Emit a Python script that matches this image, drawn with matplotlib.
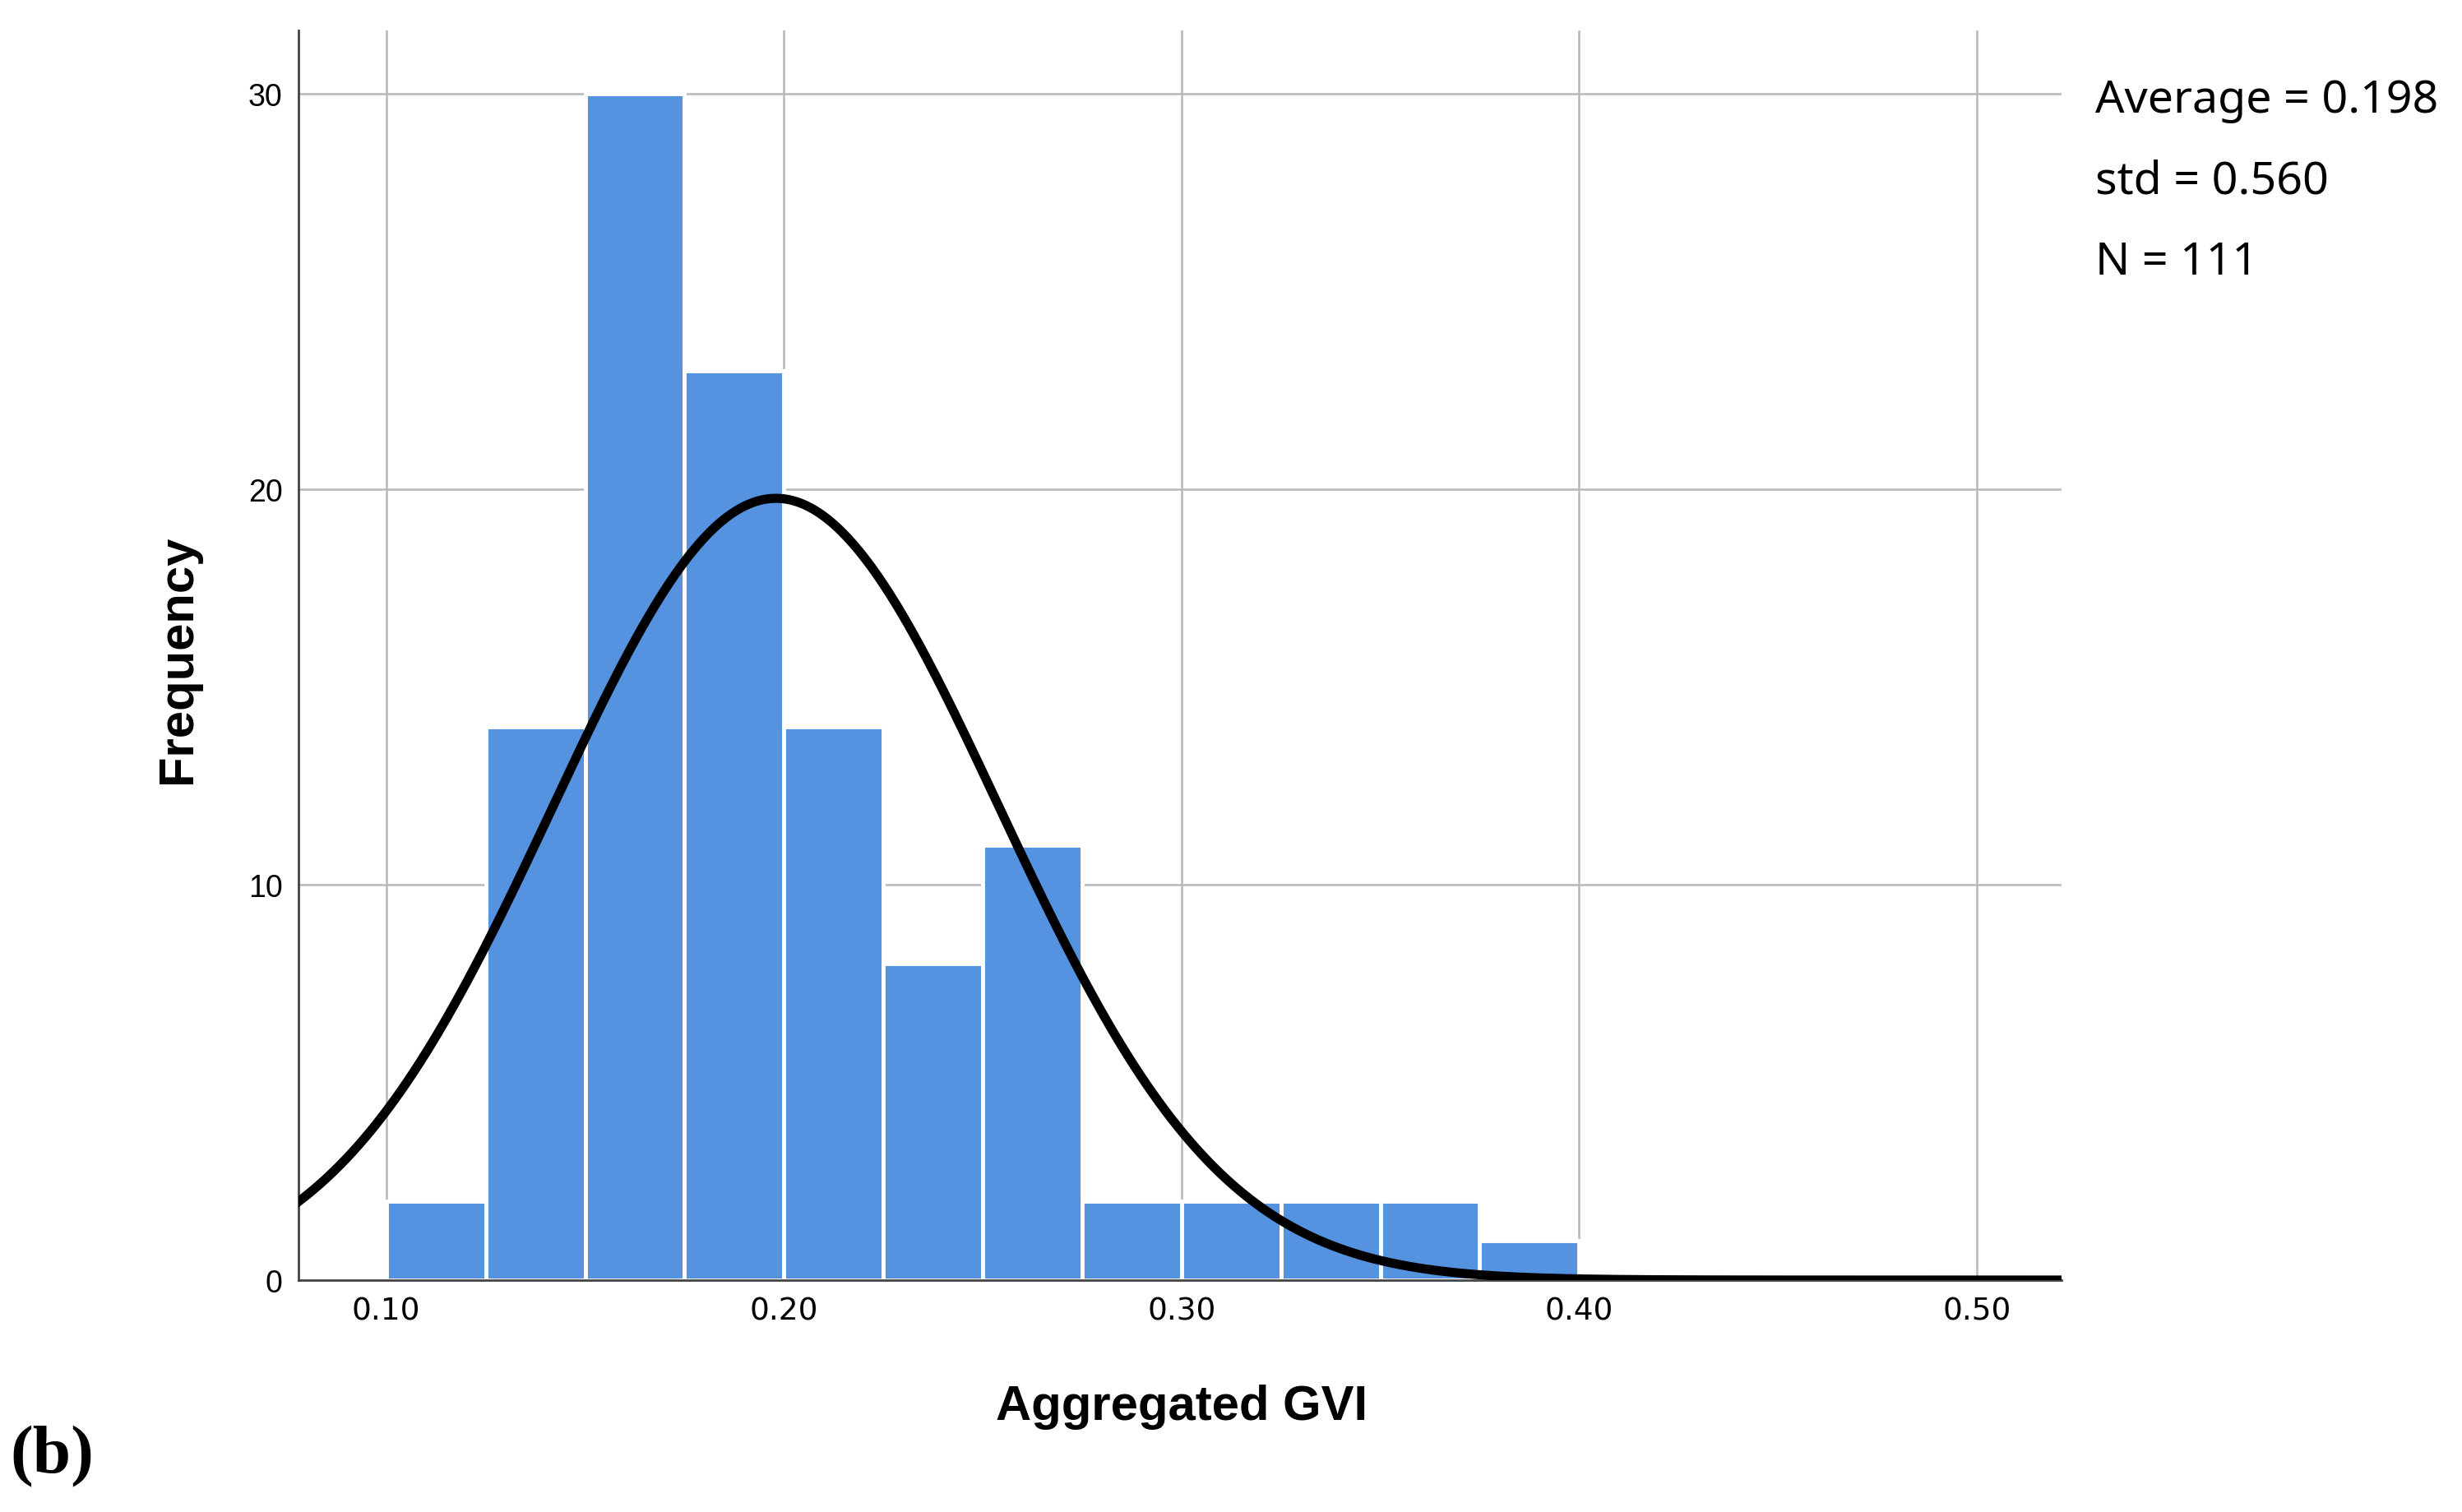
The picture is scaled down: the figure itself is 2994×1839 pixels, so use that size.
import numpy as np
import matplotlib.pyplot as plt

# histogram of aggregated GVI (bin edges + counts)
bin_edges = [0.100, 0.125, 0.150, 0.175, 0.200, 0.225, 0.250,
             0.275, 0.300, 0.325, 0.350, 0.375, 0.400]
counts = [2, 14, 30, 23, 14, 8, 11, 2, 2, 2, 2, 1]

avg = 0.198
std_fit = 0.056   # width of the drawn normal curve
n_obs = 111
stat_lines = ["Average = 0.198", "std = 0.560", "N = 111"]

x_ticks = [0.10, 0.20, 0.30, 0.40, 0.50]
x_ticklabels = ["0.10", "0.20", "0.30", "0.40", "0.50"]
y_ticks = [0, 10, 20, 30]

bar_color = "#5593E0"

fig = plt.figure(figsize=(29.94, 18.40), dpi=100)
ax = fig.add_axes([0.1212, 0.1533, 0.8373 - 0.1212, 0.9793 - 0.1533])

widths = np.diff(bin_edges)
ax.bar(bin_edges[:-1], counts, width=widths, align="edge", color=bar_color,
       edgecolor="white", linewidth=3.5, zorder=2)

# fitted normal curve
xs = np.linspace(0.07, 0.53, 600)
ys = n_obs * widths[0] / (std_fit * np.sqrt(2 * np.pi)) * np.exp(-0.5 * ((xs - avg) / std_fit) ** 2)
ax.plot(xs, ys, color="black", lw=8, zorder=3, solid_capstyle="butt")

ax.set_xlim(0.0779, 0.5213)
ax.set_ylim(0, 31.6)
ax.set_xticks(x_ticks)
ax.set_xticklabels(x_ticklabels, family=["Liberation Sans Narrow", "DejaVu Sans"], fontsize=27)
ax.set_yticks(y_ticks)
ax.set_yticklabels([str(v) for v in y_ticks], family="Liberation Sans", fontsize=27)
ax.tick_params(length=0, pad=14)

ax.grid(True, color="#b8b8b8", lw=1.8, zorder=0)
ax.set_axisbelow(True)
for s in ["top", "right"]:
    ax.spines[s].set_visible(False)
for s in ["left", "bottom"]:
    ax.spines[s].set_color("#444444")
    ax.spines[s].set_linewidth(2)

fig.text(216 / 2994, 1 - 802 / 1840, "Frequency", rotation=90, ha="center", va="center",
         family="Liberation Sans", fontweight="bold", fontsize=43)
fig.text(1437 / 2994, 1 - 1712 / 1840, "Aggregated GVI", ha="center", va="center",
         family="Liberation Sans", fontweight="bold", fontsize=43)
fig.text(12 / 2994, 1 - 1772 / 1840, "(b)", ha="left", va="center",
         family="Liberation Serif", fontweight="bold", fontsize=60)

for i, line in enumerate(stat_lines):
    fig.text(2548 / 2994, 1 - (122 + 99 * i) / 1840, line, ha="left", va="center",
             family="Noto Sans", fontsize=40)

fig.savefig("out.png", dpi=100, facecolor="white")
